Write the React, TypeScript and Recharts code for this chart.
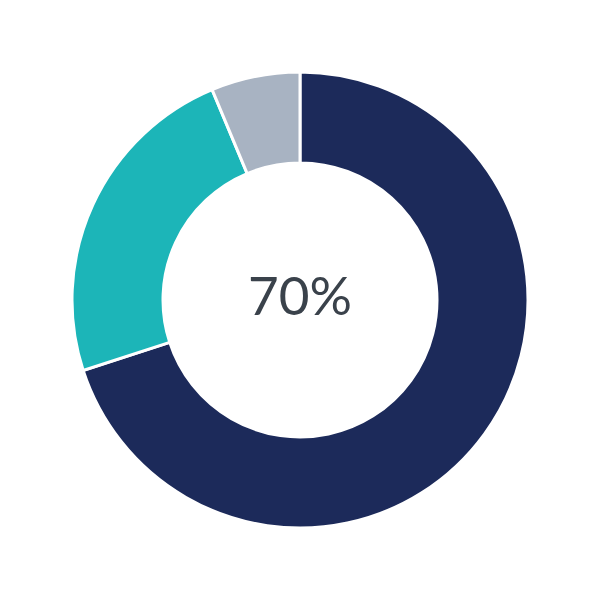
import { Cell, Label, Pie, PieChart } from "recharts";

const segments = ["Primary", "Secondary", "Other"];
const shares = [70, 23.7, 6.3];
const colors = ["#1c2a5a", "#1cb5b8", "#a8b3c2"];
const centerLabel = "70%";

const data = segments.map((name, i) => ({ name, value: shares[i] }));

export default function App() {
  return (
    <div style={{ position: "absolute", left: 0, top: 0, width: 600, height: 600, background: "#fff" }}>
      <PieChart width={600} height={600} margin={{ top: 0, right: 0, bottom: 0, left: 0 }}>
        <Pie
          data={data}
          dataKey="value"
          cx={300}
          cy={300}
          innerRadius={137}
          outerRadius={228}
          startAngle={90}
          endAngle={-270}
          stroke="#ffffff"
          strokeWidth={3}
          isAnimationActive={false}
        >
          {data.map((d, i) => (
            <Cell key={d.name} fill={colors[i]} />
          ))}
          <Label
            value={centerLabel}
            position="center"
            fill="#3a424b"
            dy={-4}
            style={{ fontFamily: "Lato, sans-serif", fontSize: 53, fontWeight: 400 }}
          />
        </Pie>
      </PieChart>
    </div>
  );
}
